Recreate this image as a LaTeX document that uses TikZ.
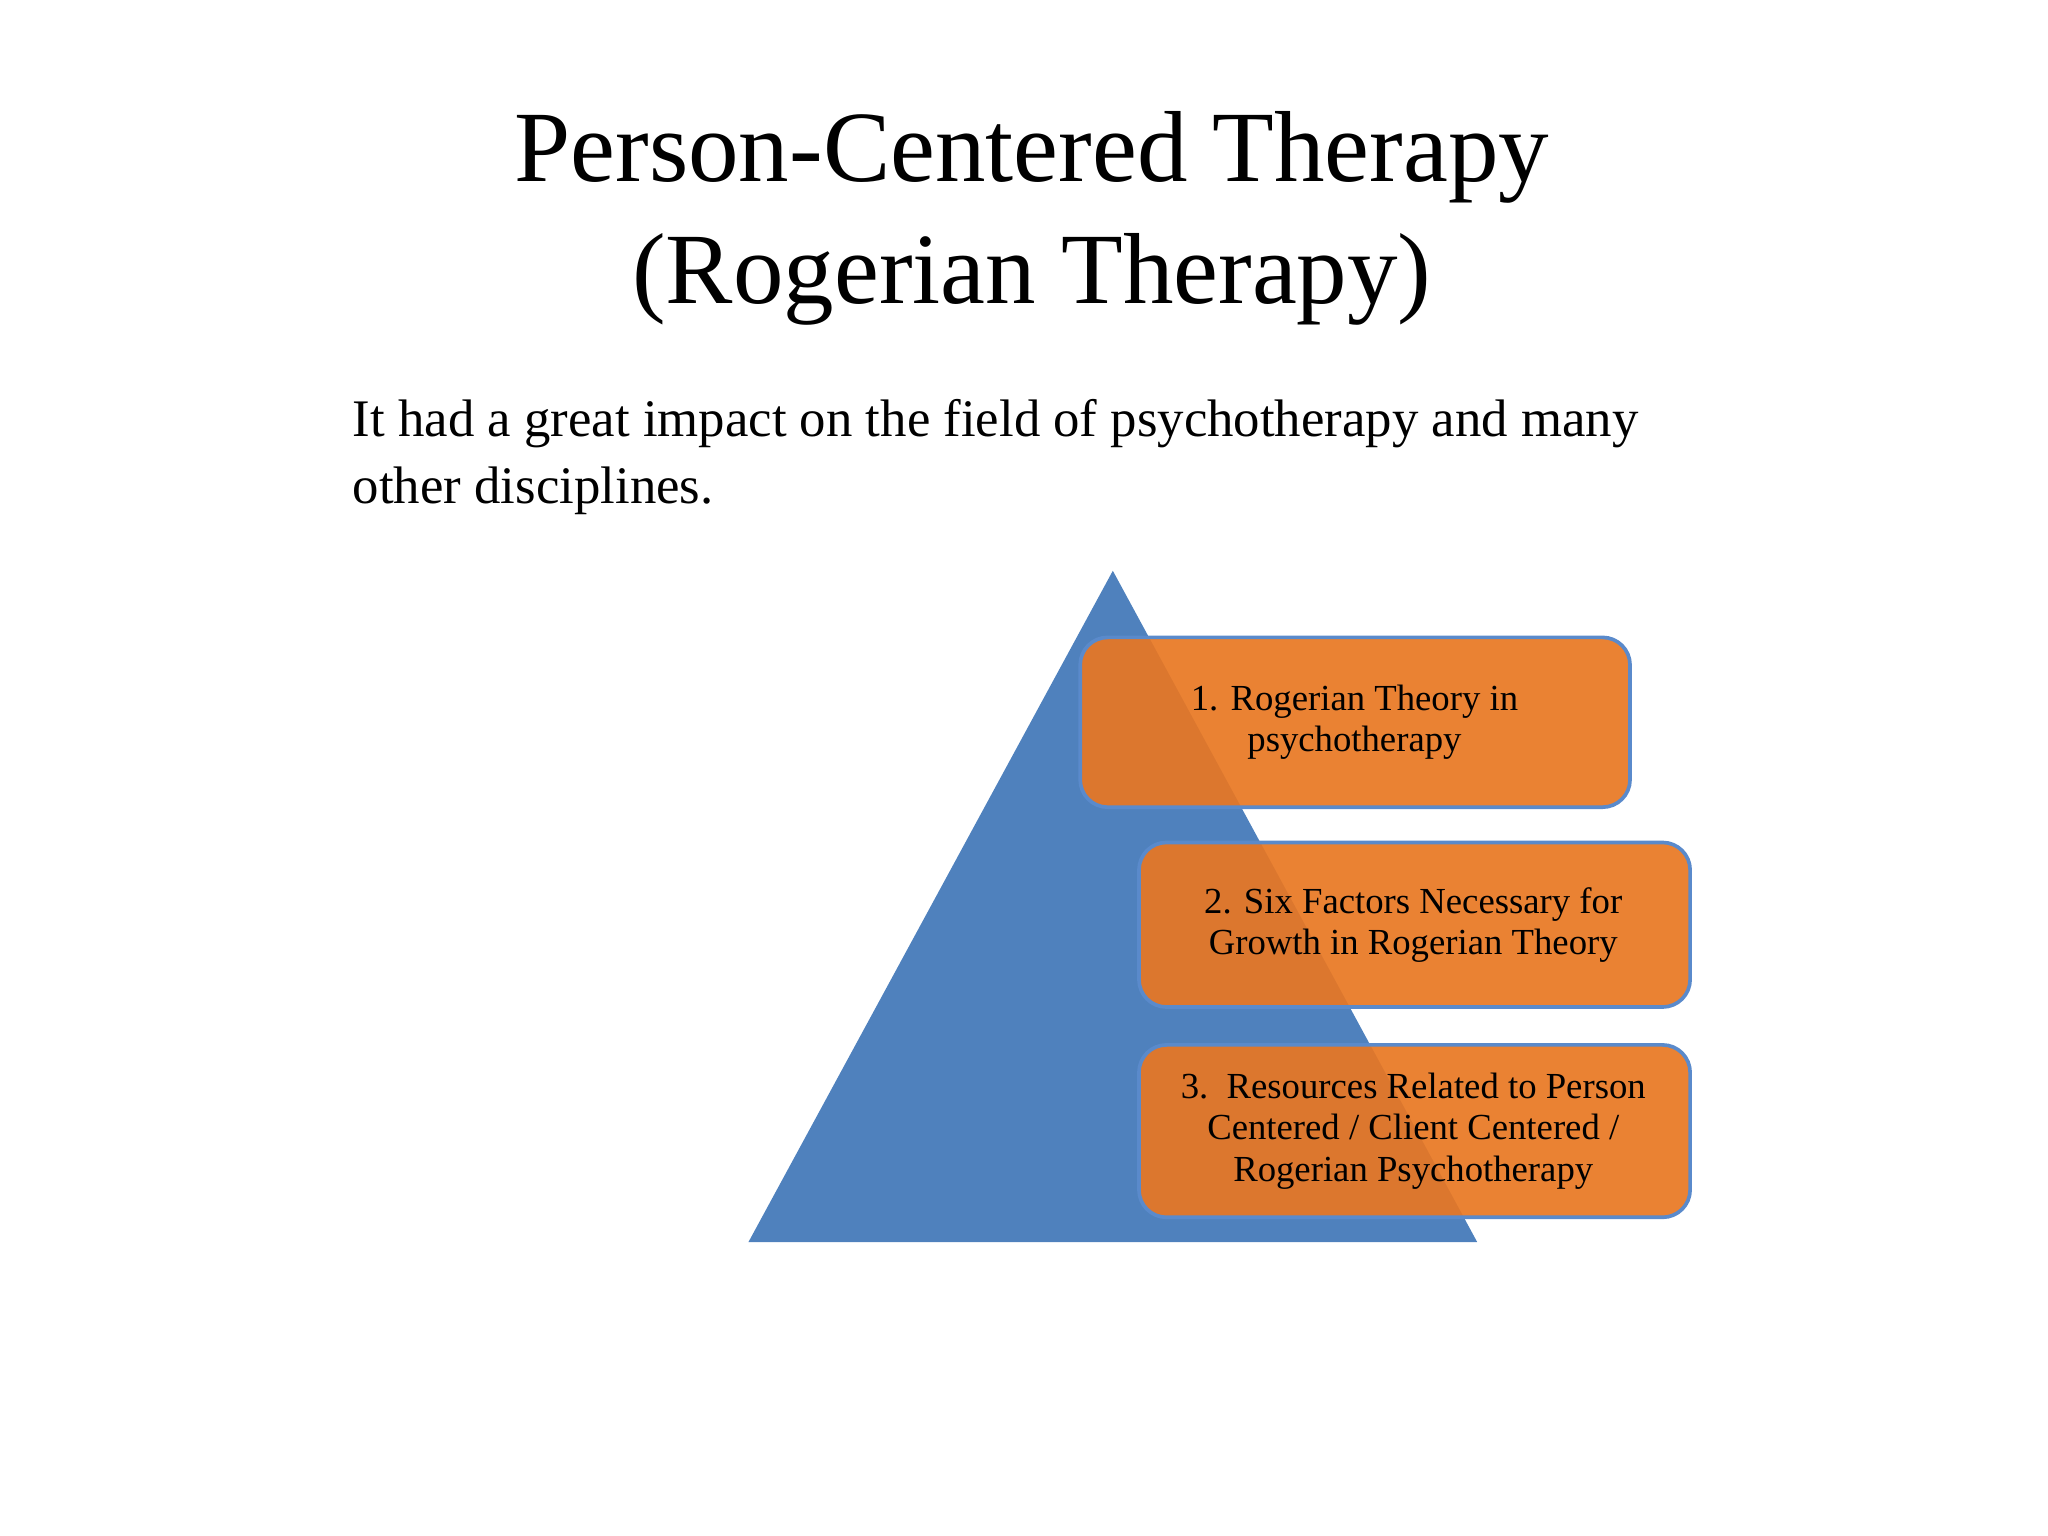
\documentclass[tikz,border=0pt]{standalone}
\usepackage{fontspec}
\setmainfont{Liberation Serif}
\begin{document}
\begin{tikzpicture}[x=0.02cm,y=-0.02cm,
  box/.style={draw=bordblue,line width=1.6pt,fill=boxorange,fill opacity=0.92,text opacity=1,rounded corners=12pt,align=center,inner sep=0pt,font=\fontsize{16pt}{18pt}\selectfont}]
\definecolor{triblue}{HTML}{4F81BD}
\definecolor{bordblue}{HTML}{5A8ACB}
\definecolor{boxorange}{HTML}{E87722}
\useasboundingbox (0,0) rectangle (1568,1176);
\node (title) at (790,167) [align=center,font=\fontsize{44pt}{53pt}\selectfont] {Person-Centered Therapy\\(Rogerian Therapy)};
\node (body) at (264,350) [anchor=west,align=left,font=\fontsize{23pt}{29.5pt}\selectfont] {It had a great impact on the field of psychotherapy and many\\other disciplines.};
\fill[triblue] (852,437) coordinate (apex) -- (1131,951) -- (573,951) -- cycle;
\draw[box] (827,488) rectangle (1248,618);
\node (b1) at (1037,553) [align=center,font=\fontsize{16pt}{18pt}\selectfont] {1. Rogerian Theory in\\psychotherapy};
\draw[box] (872,645) rectangle (1294,771);
\node (b2) at (1082,708) [align=center,font=\fontsize{16pt}{18pt}\selectfont] {2. Six Factors Necessary for\\Growth in Rogerian Theory};
\draw[box] (872,800) rectangle (1294,932);
\node (b3) at (1082,866) [align=center,font=\fontsize{16pt}{18pt}\selectfont] {3.\ \ Resources Related to Person\\Centered / Client Centered /\\Rogerian Psychotherapy};
\end{tikzpicture}
\end{document}
